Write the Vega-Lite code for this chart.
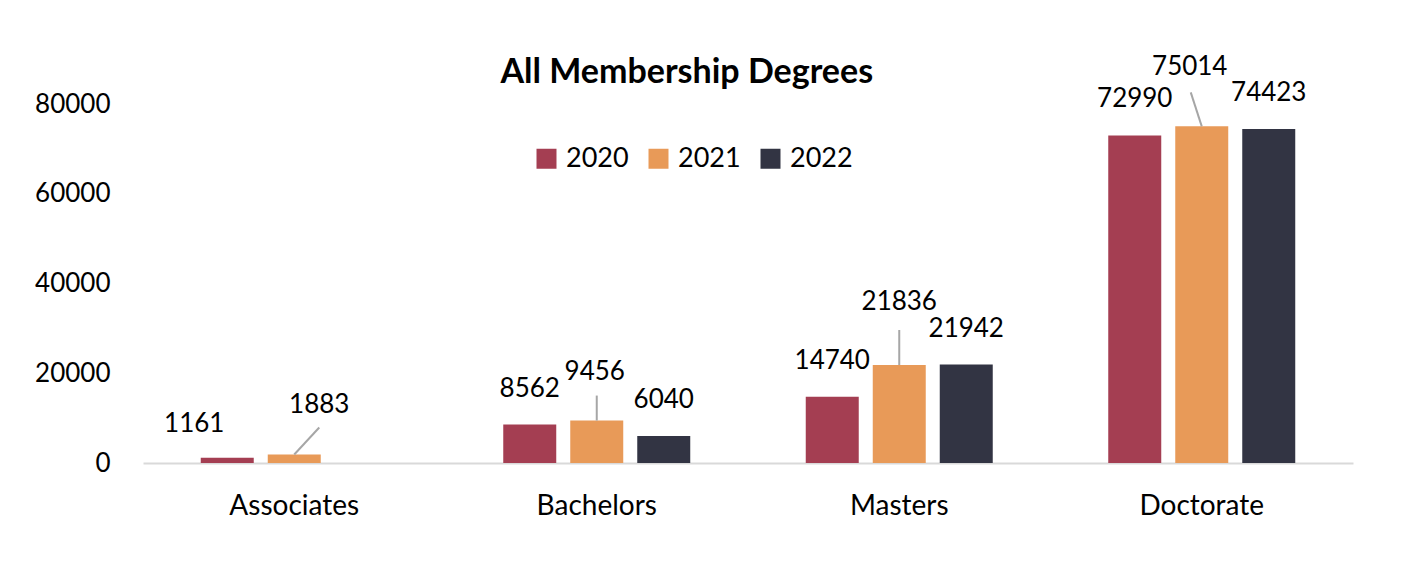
{
  "$schema": "https://vega.github.io/schema/vega-lite/v6.json",
  "autosize": "none",
  "width": 1210,
  "height": 359,
  "padding": {"left": 143, "top": 104, "right": 57, "bottom": 109},
  "background": "white",
  "config": {"view": {"stroke": null}, "font": "Lato"},
  "title": {"text": "All Membership Degrees", "font": "Lato", "fontSize": 34, "fontWeight": "bold", "color": "#000000", "frame": "bounds", "anchor": "middle", "offset": -36, "dx": -7},
  "data": {"values": [
    {"degree": "Associates", "year": "2020", "value": 1161},
    {"degree": "Associates", "year": "2021", "value": 1883},
    {"degree": "Bachelors", "year": "2020", "value": 8562},
    {"degree": "Bachelors", "year": "2021", "value": 9456},
    {"degree": "Bachelors", "year": "2022", "value": 6040},
    {"degree": "Masters", "year": "2020", "value": 14740},
    {"degree": "Masters", "year": "2021", "value": 21836},
    {"degree": "Masters", "year": "2022", "value": 21942},
    {"degree": "Doctorate", "year": "2020", "value": 72990},
    {"degree": "Doctorate", "year": "2021", "value": 75014},
    {"degree": "Doctorate", "year": "2022", "value": 74423}
  ]},
  "encoding": {
    "x": {"field": "degree", "type": "nominal", "sort": ["Associates", "Bachelors", "Masters", "Doctorate"],
      "scale": {"paddingInner": 0, "paddingOuter": 0},
      "axis": {"title": null, "labelAngle": 0, "labelFont": "Lato", "labelFontSize": 28, "labelColor": "#000000", "labelPadding": 29, "ticks": false, "domainColor": "#d9d9d9", "domainWidth": 2}},
    "xOffset": {"field": "year", "type": "nominal", "scale": {"domain": ["2020", "2021", "2022"], "paddingInner": 0.209, "paddingOuter": 0.862}},
    "y": {"field": "value", "type": "quantitative", "scale": {"domain": [0, 80000], "nice": false},
      "axis": {"title": null, "values": [0, 20000, 40000, 60000, 80000], "format": "d", "grid": false, "domain": false, "ticks": false, "labelFont": "Lato", "labelFontSize": 26, "labelColor": "#000000", "labelPadding": 33}}
  },
  "layer": [
    {
      "mark": {"type": "bar"},
      "encoding": {
        "color": {"field": "year", "type": "nominal", "scale": {"domain": ["2020", "2021", "2022"], "range": ["#A43E52", "#E89A58", "#323443"]},
          "legend": {"title": null, "orient": "none", "direction": "horizontal", "legendX": 390, "legendY": 41, "symbolType": "square", "symbolSize": 400, "symbolStrokeWidth": 0, "labelFont": "Lato", "labelFontSize": 27, "labelColor": "#000000", "labelOffset": 6, "columnPadding": 16}}
      }
    },
    {
      "transform": [{"filter": "datum.year != '2021' && datum.degree != 'Associates'"}],
      "mark": {"type": "text", "font": "Lato", "fontSize": 26, "color": "#000000", "baseline": "middle", "dy": -36},
      "encoding": {"text": {"field": "value", "type": "quantitative", "format": "d"}}
    },
    {
      "transform": [{"filter": "datum.year == '2020' && datum.degree == 'Associates'"}],
      "mark": {"type": "text", "font": "Lato", "fontSize": 26, "color": "#000000", "baseline": "middle", "dy": -34, "dx": -33},
      "encoding": {"text": {"field": "value", "type": "quantitative", "format": "d"}}
    },
    {
      "transform": [{"filter": "datum.year == '2021' && datum.degree == 'Associates'"}],
      "mark": {"type": "text", "font": "Lato", "fontSize": 26, "color": "#000000", "baseline": "middle", "dy": -50, "dx": 25},
      "encoding": {"text": {"field": "value", "type": "quantitative", "format": "d"}}
    },
    {
      "transform": [{"filter": "datum.year == '2021' && datum.degree == 'Bachelors'"}],
      "mark": {"type": "text", "font": "Lato", "fontSize": 26, "color": "#000000", "baseline": "middle", "dy": -49, "dx": -2},
      "encoding": {"text": {"field": "value", "type": "quantitative", "format": "d"}}
    },
    {
      "transform": [{"filter": "datum.year == '2021' && datum.degree == 'Masters'"}],
      "mark": {"type": "text", "font": "Lato", "fontSize": 26, "color": "#000000", "baseline": "middle", "dy": -63},
      "encoding": {"text": {"field": "value", "type": "quantitative", "format": "d"}}
    },
    {
      "transform": [{"filter": "datum.year == '2021' && datum.degree == 'Doctorate'"}],
      "mark": {"type": "text", "font": "Lato", "fontSize": 26, "color": "#000000", "baseline": "middle", "dy": -59, "dx": -12},
      "encoding": {"text": {"field": "value", "type": "quantitative", "format": "d"}}
    },
    {
      "transform": [{"filter": "datum.year == '2021' && datum.degree == 'Bachelors'"}],
      "mark": {"type": "rule", "color": "#a6a6a6", "strokeWidth": 2, "y2Offset": -25},
      "encoding": {"y2": {"field": "value"}}
    },
    {
      "transform": [{"filter": "datum.year == '2021' && datum.degree == 'Masters'"}],
      "mark": {"type": "rule", "color": "#a6a6a6", "strokeWidth": 2, "y2Offset": -35},
      "encoding": {"y2": {"field": "value"}}
    },
    {
      "transform": [{"filter": "datum.year == '2021' && datum.degree == 'Associates'"}],
      "mark": {"type": "rule", "color": "#a6a6a6", "strokeWidth": 2, "x2Offset": 25, "y2Offset": -27},
      "encoding": {"x2": {"field": "degree"}, "y2": {"field": "value"}}
    },
    {
      "transform": [{"filter": "datum.year == '2021' && datum.degree == 'Doctorate'"}],
      "mark": {"type": "rule", "color": "#a6a6a6", "strokeWidth": 2, "x2Offset": -11, "y2Offset": -34},
      "encoding": {"x2": {"field": "degree"}, "y2": {"field": "value"}}
    }
  ]
}
